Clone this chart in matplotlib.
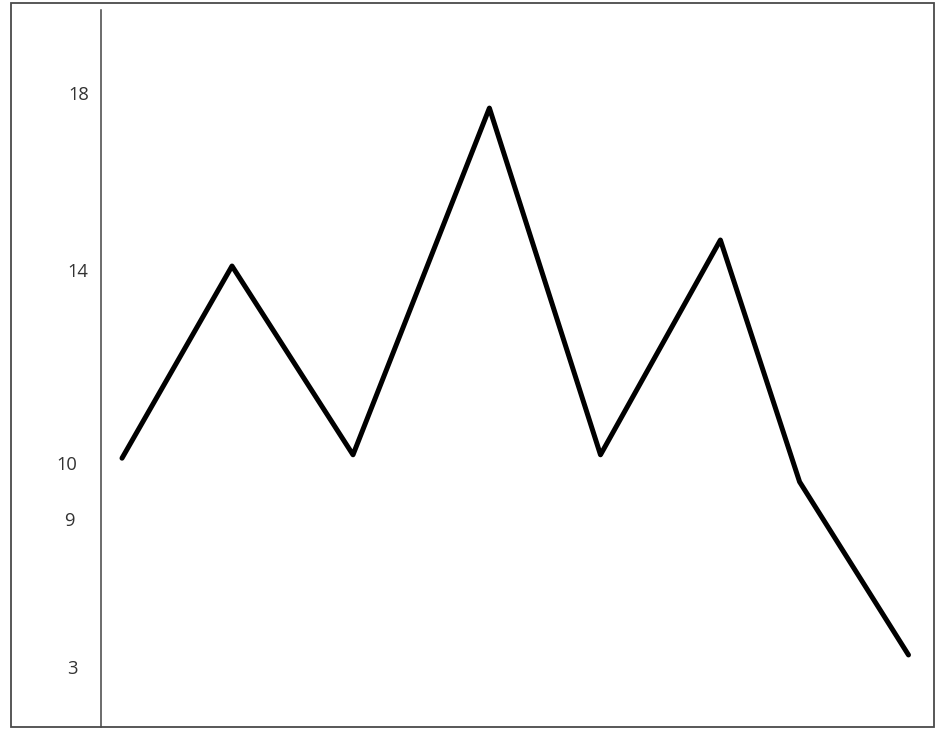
import numpy as np
import matplotlib
matplotlib.use("Agg")
import matplotlib.pyplot as plt
from matplotlib.patches import Rectangle
from matplotlib.transforms import ScaledTranslation

# data
x_vals = [0.0, 1.0, 2.1, 3.34, 4.35, 5.44, 6.16, 7.15]
y_vals = [10.11, 14.09, 10.18, 17.67, 10.18, 14.68, 9.67, 3.47]
tick_vals = [3, 9, 10, 14, 18]
tick_labels = ["3", "9", "10", "14", "18"]

# irregular (piecewise) vertical scale anchored at the tick positions
anchor_vals = np.array([0.0, 3, 9, 10, 14, 18, 22])
anchor_pos = -np.array([741.0, 666.5, 519, 463.5, 270, 93.5, -81.5])

def fwd(v):
    return np.interp(v, anchor_vals, anchor_pos)

def inv(t):
    return np.interp(t, anchor_pos, anchor_vals)

W, H = 940, 733
fig = plt.figure(figsize=(W / 100, H / 100), dpi=100)
fig.patch.set_facecolor("white")

ax_left, ax_right, ax_top, ax_bot = 101, 934, 10, 727
ax = fig.add_axes([ax_left / W, (H - ax_bot) / H, (ax_right - ax_left) / W, (ax_bot - ax_top) / H])
ax.set_yscale("function", functions=(fwd, inv))

ax.plot(x_vals, y_vals, color="black", lw=3.6, solid_capstyle="round", solid_joinstyle="round")

ax.set_xlim(-0.191, 7.382)
ax.set_ylim(inv(-ax_bot), inv(-ax_top))

for s in ["top", "right", "bottom"]:
    ax.spines[s].set_visible(False)
ax.spines["left"].set_color("#444444")
ax.spines["left"].set_linewidth(1.1)
ax.set_xticks([])
ax.set_yticks(tick_vals)
ax.set_yticklabels(tick_labels)
ax.yaxis.set_minor_locator(matplotlib.ticker.NullLocator())
ax.tick_params(axis="y", length=0, pad=0, labelsize=13.2, labelcolor="#333333")

offsets_px = {"18": -22.5, "14": -23, "10": -34, "9": -31.5, "3": -29}
for lab in ax.get_yticklabels():
    lab.set_fontfamily("Open Sans")
    lab.set_horizontalalignment("center")
    lab.set_verticalalignment("center")
    dx = offsets_px.get(lab.get_text(), -25) / 100
    lab.set_transform(lab.get_transform() + ScaledTranslation(dx, -2 / 100, fig.dpi_scale_trans))

# outer frame
fig.patches.append(Rectangle((11 / W, (H - 727) / H), (934 - 11) / W, (727 - 3) / H,
                             transform=fig.transFigure, fill=False,
                             edgecolor="#4a4a4a", linewidth=1.3))

fig.savefig("out.png", dpi=100, facecolor="white")
